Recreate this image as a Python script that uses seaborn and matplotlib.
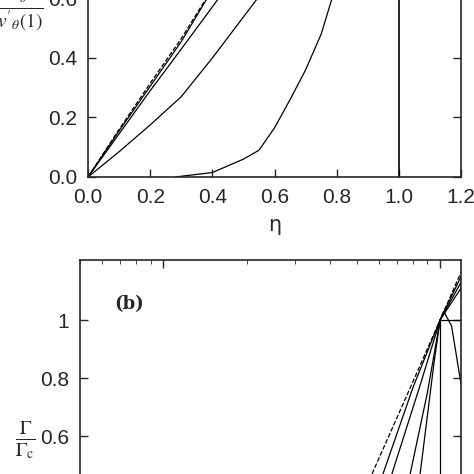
import matplotlib
matplotlib.use("Agg")
import matplotlib.pyplot as plt
import seaborn as sns

# panel (a): velocity profiles vs eta
eta_dash = [0.0, 0.1, 0.2, 0.3, 0.38]
v_dash = [0.0, 0.16, 0.315, 0.465, 0.6]
eta_a1 = [0.0, 0.1, 0.2, 0.3, 0.383]
v_a1 = [0.0, 0.155, 0.305, 0.455, 0.6]
eta_a2 = [0.0, 0.1, 0.2, 0.3, 0.42]
v_a2 = [0.0, 0.145, 0.29, 0.43, 0.6]
eta_a3 = [0.0, 0.1, 0.2, 0.3, 0.4, 0.545]
v_a3 = [0.0, 0.085, 0.175, 0.27, 0.4, 0.6]
eta_a4 = [0.28, 0.4, 0.5, 0.55, 0.6, 0.65, 0.7, 0.75, 0.785]
v_a4 = [0.0, 0.015, 0.06, 0.09, 0.165, 0.26, 0.36, 0.48, 0.6]

# panel (b): Gamma / Gamma_c (log x)
xb_dash = [0.568, 0.8, 1.0, 1.19]
gb_dash = [0.47, 0.79, 1.0, 1.165]
xb1 = [0.622, 0.8, 1.0, 1.19]
gb1 = [0.47, 0.77, 1.0, 1.15]
xb2 = [0.67, 0.85, 1.0, 1.19]
gb2 = [0.47, 0.78, 1.0, 1.13]
xb3 = [0.78, 0.9, 1.0, 1.19]
gb3 = [0.47, 0.75, 1.0, 1.11]
xb4 = [0.847, 0.95, 1.0, 1.03, 1.1, 1.19]
gb4 = [0.47, 0.85, 1.0, 1.03, 0.98, 0.78]
xb_step = [1.0, 1.0, 1.19]
gb_step = [0.2, 1.0, 1.0]

sns.set_style("ticks")
plt.rcParams["font.family"] = ["Liberation Sans", "DejaVu Sans"]
plt.rcParams["mathtext.fontset"] = "stix"
plt.rcParams["xtick.direction"] = "in"
plt.rcParams["ytick.direction"] = "in"

fig = plt.figure(figsize=(4.74, 4.74), dpi=100)
W = 474.0

def box(left, top, right, bottom):
    return [left / W, (W - bottom) / W, (right - left) / W, (bottom - top) / W]

def curve(ax, xs, ys, ls="-"):
    sns.lineplot(x=xs, y=ys, ax=ax, color="black", lw=0.9, linestyle=ls,
                 sort=False, estimator=None)

ax1 = fig.add_axes(box(88, 177 - 297.5, 461, 177))
curve(ax1, eta_dash, v_dash, "--")
for ex, vy in [(eta_a1, v_a1), (eta_a2, v_a2), (eta_a3, v_a3), (eta_a4, v_a4)]:
    curve(ax1, ex, vy)
ax1.axvline(1.0, color="black", lw=1.2)
ax1.set_xlim(0, 1.2)
ax1.set_ylim(0, 1.0)
ax1.set_xticks([0, 0.2, 0.4, 0.6, 0.8, 1.0, 1.2])
ax1.set_xticklabels(["0.0", "0.2", "0.4", "0.6", "0.8", "1.0", "1.2"])
ax1.set_yticks([0, 0.2, 0.4, 0.6, 0.8, 1.0])
ax1.set_yticklabels(["0.0", "0.2", "0.4", "0.6", "0.8", "1.0"])
ax1.tick_params(labelsize=15, length=6, width=1, top=True, right=True, pad=8)
ax1.set_xlabel("η", fontsize=15, family="DejaVu Sans", labelpad=6)
for s in ax1.spines.values():
    s.set_linewidth(1.2)
fig.text(20 / W, (W - 12) / W, r"$\frac{v_\theta}{v'_\theta(1)}$", fontsize=20,
         ha="center", va="center")

ax2 = fig.add_axes(box(80, 260, 461, 260 + 292))
curve(ax2, xb_dash, gb_dash, "--")
for bx, gy in [(xb1, gb1), (xb2, gb2), (xb3, gb3), (xb4, gb4), (xb_step, gb_step)]:
    curve(ax2, bx, gy)
ax2.set_xscale("log")
ax2.set_xlim(0.05, 1.19)
ax2.set_ylim(0.2, 1.207)
ax2.set_yticks([0.2, 0.4, 0.6, 0.8, 1.0])
ax2.set_yticklabels(["0.2", "0.4", "0.6", "0.8", "1"])
ax2.tick_params(labelsize=15, length=6, width=1, top=True, right=True, pad=8)
ax2.tick_params(which="minor", length=3, top=True)
for s in ax2.spines.values():
    s.set_linewidth(1.2)
ax2.text(0.09, 0.85, "(b)", transform=ax2.transAxes, fontsize=13, fontweight="bold",
         family="DejaVu Serif", va="center")
fig.text(25 / W, (W - 440) / W, r"$\frac{\Gamma}{\Gamma_\mathrm{c}}$", fontsize=20,
         ha="center", va="center")

fig.savefig("out.png", dpi=100)
